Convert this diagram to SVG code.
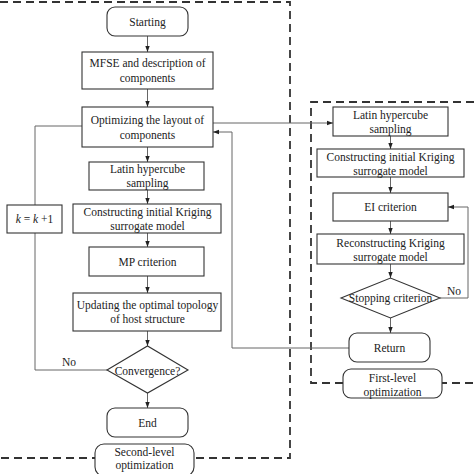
<svg xmlns="http://www.w3.org/2000/svg" width="474" height="474" viewBox="0 0 474 474">
<style>
  .box{fill:#fff;stroke:#333;stroke-width:1.1}
  .dash{fill:none;stroke:#333;stroke-width:1.8;stroke-dasharray:8 5}
  .ln{fill:none;stroke:#666;stroke-width:1}
  text{font-family:"Liberation Serif","Times New Roman",serif;font-size:11.5px;fill:#222;text-anchor:middle;dominant-baseline:central}
</style>
<defs>
  <marker id="ah" viewBox="0 0 6 6" refX="6" refY="3" markerWidth="6" markerHeight="6" markerUnits="userSpaceOnUse" orient="auto">
    <path d="M0,0.8 L6,3 L0,5.2 Z" fill="#222"/>
  </marker>
</defs>
<rect width="474" height="474" fill="#fff"/>
<g id="frames">
  <path class="dash" d="M0,2 H290 V458 H0"/>
  <path class="dash" d="M474,102 H311 V383 H474"/>
</g>
<g id="connectors">
  <line class="ln" x1="147.5" y1="36" x2="147.5" y2="52" marker-end="url(#ah)"/>
  <line class="ln" x1="147.5" y1="89" x2="147.5" y2="107" marker-end="url(#ah)"/>
  <line class="ln" x1="147.5" y1="147" x2="147.5" y2="162" marker-end="url(#ah)"/>
  <line class="ln" x1="147.5" y1="190" x2="147.5" y2="204" marker-end="url(#ah)"/>
  <line class="ln" x1="147.5" y1="233" x2="147.5" y2="247" marker-end="url(#ah)"/>
  <line class="ln" x1="147.5" y1="276" x2="147.5" y2="293" marker-end="url(#ah)"/>
  <line class="ln" x1="147.5" y1="331" x2="147.5" y2="346" marker-end="url(#ah)"/>
  <line class="ln" x1="147.5" y1="393" x2="147.5" y2="408" marker-end="url(#ah)"/>
  <path class="ln" d="M107,370 H35 V126 H82"/>
  <line class="ln" x1="213" y1="123" x2="333" y2="123" marker-end="url(#ah)"/>
  <path class="ln" d="M349,348 H232 V132 H213" marker-end="url(#ah)"/>
  <line class="ln" x1="390.5" y1="136" x2="390.5" y2="149" marker-end="url(#ah)"/>
  <line class="ln" x1="390.5" y1="177" x2="390.5" y2="193" marker-end="url(#ah)"/>
  <line class="ln" x1="390.5" y1="221" x2="390.5" y2="234" marker-end="url(#ah)"/>
  <line class="ln" x1="390.5" y1="264" x2="390.5" y2="278" marker-end="url(#ah)"/>
  <line class="ln" x1="390.5" y1="318" x2="390.5" y2="333" marker-end="url(#ah)"/>
  <path class="ln" d="M440,298 H468 V207 H448" marker-end="url(#ah)"/>
  <text x="69" y="362">No</text>
  <text x="454" y="291">No</text>
</g>
<g id="starting"><rect class="box" x="107" y="7" width="81" height="29" rx="8"/><text x="147.5" y="22">Starting</text></g>
<g id="mfse"><rect class="box" x="82" y="52" width="131" height="37"/><text x="147.5" y="63">MFSE and description of</text><text x="147.5" y="78">components</text></g>
<g id="optimizing"><rect class="box" x="82" y="107" width="131" height="40"/><text x="147.5" y="120">Optimizing the layout of</text><text x="147.5" y="135">components</text></g>
<g id="latin2"><rect class="box" x="89" y="162" width="115" height="28"/><text x="147.5" y="169">Latin hypercube</text><text x="147.5" y="183">sampling</text></g>
<g id="kriging2"><rect class="box" x="73" y="204" width="148" height="29"/><text x="147.5" y="212">Constructing initial Kriging</text><text x="147.5" y="226">surrogate model</text></g>
<g id="mp"><rect class="box" x="89" y="247" width="115" height="29"/><text x="147.5" y="262">MP criterion</text></g>
<g id="updating"><rect class="box" x="73" y="293" width="148" height="38"/><text x="147.5" y="305">Updating the optimal topology</text><text x="147.5" y="319">of host structure</text></g>
<g id="convergence"><polygon class="box" points="107,370 147.5,346 188,370 147.5,393"/><text x="147.5" y="371">Convergence?</text></g>
<g id="end"><rect class="box" x="107" y="408" width="81" height="29" rx="8"/><text x="147.5" y="423">End</text></g>
<g id="second-level"><rect class="box" x="95" y="444" width="99" height="32" rx="9"/><text x="144.5" y="452">Second-level</text><text x="144.5" y="465">optimization</text></g>
<g id="kplus"><rect class="box" x="7" y="205" width="55" height="28"/><text x="34.5" y="219"><tspan font-style="italic">k</tspan> = <tspan font-style="italic">k</tspan> +1</text></g>
<g id="latin1"><rect class="box" x="333" y="107" width="115" height="29"/><text x="390.5" y="115">Latin hypercube</text><text x="390.5" y="129">sampling</text></g>
<g id="kriging1"><rect class="box" x="317" y="149" width="147" height="28"/><text x="390.5" y="157">Constructing initial Kriging</text><text x="390.5" y="171">surrogate model</text></g>
<g id="ei"><rect class="box" x="333" y="193" width="115" height="28"/><text x="390.5" y="207">EI criterion</text></g>
<g id="reconstructing"><rect class="box" x="317" y="234" width="147" height="30"/><text x="390.5" y="243">Reconstructing Kriging</text><text x="390.5" y="257">surrogate model</text></g>
<g id="stopping"><polygon class="box" points="341,298 390.5,278 440,298 390.5,318"/><text x="390.5" y="298">Stopping criterion</text></g>
<g id="return"><rect class="box" x="349" y="333" width="81" height="29" rx="8"/><text x="389.5" y="348">Return</text></g>
<g id="first-level"><rect class="box" x="343" y="369" width="99" height="29" rx="8"/><text x="392.5" y="378">First-level</text><text x="392.5" y="392">optimization</text></g>
</svg>
